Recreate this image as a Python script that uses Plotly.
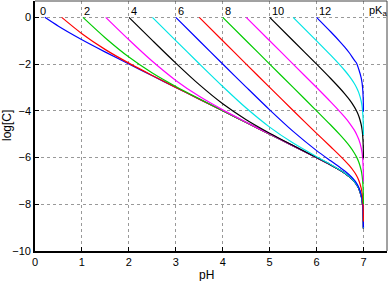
import plotly.graph_objects as go

# pKa values of the curves
pka_values = [0, 1, 2, 3, 4, 5, 6, 7, 8, 9, 10, 11, 12]

# pH / log[C] points, one pair of lists per curve
ph_pka0 = [0.209, 0.5, 1, 1.5, 2, 2.5, 3, 3.5, 4, 4.5, 5, 5.5, 6, 6.3, 6.5, 6.6, 6.7, 6.8, 6.85, 6.9, 6.95, 6.97, 6.98, 6.99, 6.995, 6.998]
logc_pka0 = [0, -0.381, -0.959, -1.487, -1.996, -2.499, -3.0, -3.5, -4.0, -4.5, -5.0, -5.5, -6.004, -6.318, -6.546, -6.675, -6.826, -7.021, -7.152, -7.333, -7.637, -7.859, -8.036, -8.337, -8.638, -9.036]

ph_pka1 = [0.569, 1, 1.5, 2, 2.5, 3, 3.5, 4, 4.5, 5, 5.5, 6, 6.3, 6.5, 6.6, 6.7, 6.8, 6.85, 6.9, 6.95, 6.97, 6.98, 6.99, 6.995, 6.998]
logc_pka1 = [0, -0.699, -1.381, -1.959, -2.486, -2.996, -3.499, -4.0, -4.5, -5.0, -5.5, -6.004, -6.318, -6.546, -6.675, -6.826, -7.021, -7.152, -7.333, -7.637, -7.859, -8.036, -8.337, -8.638, -9.036]

ph_pka2 = [1.022, 1.5, 2, 2.5, 3, 3.5, 4, 4.5, 5, 5.5, 6, 6.3, 6.5, 6.6, 6.7, 6.8, 6.85, 6.9, 6.95, 6.97, 6.98, 6.99, 6.995, 6.998]
logc_pka2 = [0, -0.881, -1.699, -2.381, -2.959, -3.486, -3.996, -4.499, -5.0, -5.5, -6.004, -6.318, -6.546, -6.675, -6.826, -7.021, -7.152, -7.333, -7.637, -7.859, -8.036, -8.337, -8.638, -9.036]

ph_pka3 = [1.507, 2, 2.5, 3, 3.5, 4, 4.5, 5, 5.5, 6, 6.3, 6.5, 6.6, 6.7, 6.8, 6.85, 6.9, 6.95, 6.97, 6.98, 6.99, 6.995, 6.998]
logc_pka3 = [0, -0.959, -1.881, -2.699, -3.381, -3.959, -4.486, -4.996, -5.499, -6.004, -6.318, -6.546, -6.675, -6.826, -7.021, -7.152, -7.333, -7.637, -7.859, -8.036, -8.337, -8.638, -9.036]

ph_pka4 = [2.002, 2.5, 3, 3.5, 4, 4.5, 5, 5.5, 6, 6.3, 6.5, 6.6, 6.7, 6.8, 6.85, 6.9, 6.95, 6.97, 6.98, 6.99, 6.995, 6.998]
logc_pka4 = [0, -0.986, -1.959, -2.881, -3.699, -4.381, -4.959, -5.487, -6.0, -6.316, -6.544, -6.674, -6.825, -7.020, -7.152, -7.332, -7.636, -7.859, -8.035, -8.336, -8.637, -9.035]

ph_pka5 = [2.501, 3, 3.5, 4, 4.5, 5, 5.5, 6, 6.3, 6.5, 6.6, 6.7, 6.8, 6.85, 6.9, 6.95, 6.97, 6.98, 6.99, 6.995, 6.998]
logc_pka5 = [0, -0.996, -1.986, -2.959, -3.881, -4.699, -5.381, -5.963, -6.296, -6.532, -6.664, -6.817, -7.014, -7.146, -7.328, -7.632, -7.855, -8.031, -8.332, -8.633, -9.031]

ph_pka6 = [3.0, 3.5, 4, 4.5, 5, 5.5, 6, 6.3, 6.5, 6.6, 6.7, 6.8, 6.85, 6.9, 6.95, 6.97, 6.98, 6.99, 6.995, 6.998]
logc_pka6 = [0, -0.999, -1.996, -2.986, -3.959, -4.881, -5.703, -6.141, -6.426, -6.578, -6.747, -6.957, -7.095, -7.281, -7.591, -7.815, -7.992, -8.294, -8.596, -8.994]

ph_pka7 = [3.5, 4, 4.5, 5, 5.5, 6, 6.3, 6.5, 6.6, 6.7, 6.8, 6.85, 6.9, 6.95, 6.97, 6.98, 6.99, 6.995, 6.998]
logc_pka7 = [0, -1.0, -1.999, -2.996, -3.987, -4.963, -5.539, -5.926, -6.129, -6.349, -6.608, -6.770, -6.979, -7.310, -7.543, -7.724, -8.031, -8.334, -8.734]

ph_pka8 = [4, 4.5, 5, 5.5, 6, 6.3, 6.5, 6.6, 6.7, 6.8, 6.85, 6.9, 6.95, 6.97, 6.98, 6.99, 6.995, 6.998]
logc_pka8 = [0, -1.0, -2.0, -2.999, -4.0, -4.609, -5.032, -5.258, -5.504, -5.794, -5.972, -6.200, -6.550, -6.791, -6.976, -7.286, -7.592, -7.993]

ph_pka9 = [4.5, 5, 5.5, 6, 6.3, 6.5, 6.6, 6.7, 6.8, 6.85, 6.9, 6.95, 6.97, 6.98, 6.99, 6.995, 6.998]
logc_pka9 = [0, -1.0, -2.0, -3.004, -3.617, -4.044, -4.273, -4.523, -4.818, -4.999, -5.230, -5.583, -5.825, -6.011, -6.322, -6.629, -7.029]

ph_pka10 = [5, 5.5, 6, 6.3, 6.5, 6.6, 6.7, 6.8, 6.85, 6.9, 6.95, 6.97, 6.98, 6.99, 6.995, 6.998]
logc_pka10 = [0, -1.0, -2.004, -2.618, -3.046, -3.275, -3.525, -3.820, -4.002, -4.233, -4.586, -4.829, -5.015, -5.326, -5.632, -6.033]

ph_pka11 = [5.5, 6, 6.3, 6.5, 6.6, 6.7, 6.8, 6.85, 6.9, 6.95, 6.97, 6.98, 6.99, 6.995, 6.998]
logc_pka11 = [0, -1.004, -1.618, -2.046, -2.275, -2.526, -2.820, -3.002, -3.233, -3.587, -3.829, -4.016, -4.327, -4.633, -5.034]

ph_pka12 = [5.998, 6.3, 6.5, 6.6, 6.7, 6.8, 6.85, 6.9, 6.95, 6.97, 6.98, 6.99, 6.995, 6.998]
logc_pka12 = [0, -0.618, -1.046, -1.275, -1.526, -1.820, -1.952, -2.233, -2.587, -2.829, -3.016, -3.327, -3.633, -4.034]

# axis ticks and the pKa scale labels along the top
x_ticks = [0, 1, 2, 3, 4, 5, 6, 7]
y_ticks = [0, -2, -4, -6, -8, -10]
y_tick_text = ["0", "\u22122", "\u22124", "\u22126", "\u22128", "\u221210"]
top_label_ph = [0, 1, 2, 3, 4, 5, 6, 7]
top_label_text = ["0", "2", "4", "6", "8", "10", "12", "pK<sub>a</sub>"]

curve_colors = ["#0000ff", "#ff0000", "#00cc00", "#ff00ff", "#000000", "#00e5e5"]

all_ph = [ph_pka0, ph_pka1, ph_pka2, ph_pka3, ph_pka4, ph_pka5, ph_pka6,
          ph_pka7, ph_pka8, ph_pka9, ph_pka10, ph_pka11, ph_pka12]
all_logc = [logc_pka0, logc_pka1, logc_pka2, logc_pka3, logc_pka4, logc_pka5, logc_pka6,
            logc_pka7, logc_pka8, logc_pka9, logc_pka10, logc_pka11, logc_pka12]

FONT = "Liberation Sans, Arial, Helvetica, sans-serif"

fig = go.Figure()
for i, (pk, xs, ys) in enumerate(zip(pka_values, all_ph, all_logc)):
    fig.add_trace(go.Scatter(
        x=xs, y=ys, mode="lines", name=f"pKa {pk}",
        line=dict(color=curve_colors[i % len(curve_colors)], width=1.2, shape="spline", smoothing=0.8),
        showlegend=False, hoverinfo="skip",
    ))

for xv, txt in zip(top_label_ph, top_label_text):
    fig.add_annotation(
        x=xv, y=0.28, xref="x", yref="y", text=txt, showarrow=False,
        xanchor="left", yanchor="middle", xshift=(3 if xv in (0, 7) else 0),
        font=dict(family=FONT, size=11, color="#000"),
    )

# axis titles
fig.add_annotation(x=0, y=0.5, xref="paper", yref="paper", text="log[C]", showarrow=False,
                   textangle=-90, xanchor="center", yanchor="middle", xshift=-28,
                   font=dict(family=FONT, size=12, color="#000"))
fig.add_annotation(x=3.66, y=0, xref="x", yref="paper", text="pH", showarrow=False,
                   xanchor="center", yanchor="middle", yshift=-24,
                   font=dict(family=FONT, size=12, color="#000"))

# top & right frame lines (thin)
fig.add_shape(type="line", xref="paper", yref="paper", x0=0, x1=1, y0=1, y1=1,
              line=dict(color="#444", width=1))
fig.add_shape(type="line", xref="paper", yref="paper", x0=1, x1=1, y0=0, y1=1,
              line=dict(color="#444", width=1))

fig.update_xaxes(
    range=[0, 7.5], tickvals=x_ticks, ticktext=[str(v) for v in x_ticks],
    showgrid=True, gridcolor="#999999", griddash="dot", gridwidth=1,
    showline=True, linecolor="#000", linewidth=1.6,
    ticks="inside", ticklen=4, tickcolor="#000",
    zeroline=False, tickfont=dict(family=FONT, size=11, color="#000"),
    automargin=False,
)
fig.update_yaxes(
    range=[-10, 0.7], tickvals=y_ticks, ticktext=y_tick_text,
    showgrid=True, gridcolor="#999999", griddash="dot", gridwidth=1,
    showline=True, linecolor="#000", linewidth=1.6,
    ticks="inside", ticklen=4, tickcolor="#000",
    zeroline=False, tickfont=dict(family=FONT, size=11, color="#000"),
    automargin=False,
)

fig.update_layout(
    width=388, height=281,
    margin=dict(l=35, r=1, t=1, b=30, autoexpand=False),
    paper_bgcolor="white", plot_bgcolor="white",
    showlegend=False,
)

fig.write_html("out.html", config={"displayModeBar": False},
               post_script="document.body.style.margin='0';document.body.style.padding='0';")
